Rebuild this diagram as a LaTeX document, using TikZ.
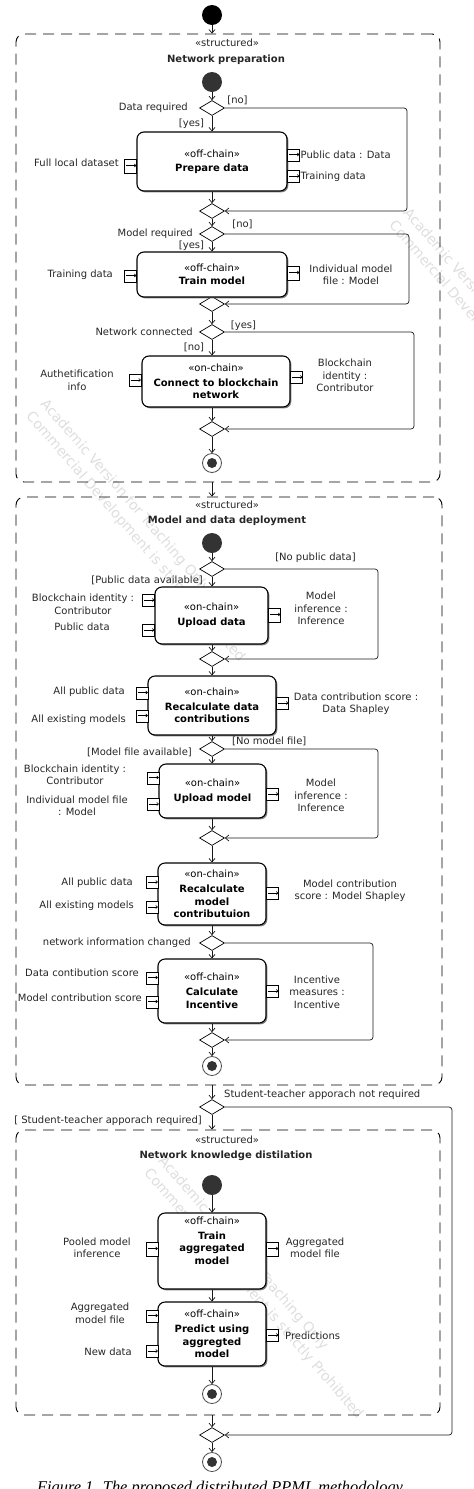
\documentclass[tikz,border=0pt]{standalone}
\usepackage{fontspec}
\setmainfont{DejaVu Sans}
\newfontfamily\captionfont{Liberation Serif}
\usetikzlibrary{shapes.geometric,arrows.meta,shadows,positioning}

\newcommand{\nsize}{\fontsize{10}{12.5}\selectfont}

\tikzset{
	flow/.style={draw=black!90, line width=0.7pt, -{Straight Barb[length=3.5pt,width=6pt]}},
	loopflow/.style={flow, rounded corners=3pt},
	activity/.style={draw, rectangle, rounded corners=7pt, line width=1.1pt, fill=white, align=center, inner sep=2pt,
		general shadow={fill=black!50, shadow xshift=1.4pt, shadow yshift=-1.4pt}},
	decision/.style={draw, diamond, minimum width=25pt, minimum height=15pt, inner sep=0pt, fill=white, line width=0.7pt},
	startnode/.style={circle, fill=black, minimum size=20pt, inner sep=0pt},
	endnode/.style={circle, draw=black!70, fill=white, line width=0.8pt, minimum size=19pt, inner sep=0pt,
		path picture={\fill[black!80] (path picture bounding box.center) circle (5pt);}},
	frame/.style={draw, dash pattern=on 11pt off 7pt, rounded corners=8pt, line width=0.9pt, inner sep=0pt},
	datapin/.style={draw, rectangle, minimum width=12pt, minimum height=12pt, inner sep=0pt, fill=white, line width=0.8pt,
		path picture={\draw[line width=0.6pt, -{Straight Barb[length=1.8pt,width=3pt]}]
			([xshift=1.5pt,yshift=0.5pt]path picture bounding box.west) -- ([yshift=0.5pt]path picture bounding box.east);}},
	lbl/.style={text=black!85, align=center, inner sep=0pt},
	watermark/.style={text=black!13, rotate=-49, align=left, inner sep=0pt, anchor=north west,
		font=\fontsize{14}{19}\selectfont}
}

\begin{document}
\begin{tikzpicture}[x=1pt, y=-1pt, every node/.append style={font=\nsize}]
	\useasboundingbox (0,0) rectangle (474,1489);

	% watermarks
	\node[watermark] (wmA) at (411,206) {Academic Version for Teaching Only\\Commercial Development is strictly Prohibited};
	\node[watermark] (wmB) at (48,397) {Academic Version for Teaching Only\\Commercial Development is strictly Prohibited};
	\node[watermark] (wmC) at (166,1154) {Academic Version for Teaching Only\\Commercial Development is strictly Prohibited};

	% structured frames
	\node[frame, minimum width=424pt, minimum height=448pt] (netprep) at (228,258) {};
	\node[frame, minimum width=426pt, minimum height=588pt] (deploy) at (229,791) {};
	\node[frame, minimum width=424pt, minimum height=285pt] (distil) at (228,1272.5) {};

	\node[lbl] (netprepster) at (227,43) {«structured»};
	\node[lbl] (netpreptitle) at (226,60) {\textbf{Network preparation}};
	\node[lbl] (deployster) at (227,505) {«structured»};
	\node[lbl] (deploytitle) at (227,521) {\textbf{Model and data deployment}};
	\node[lbl] (distilster) at (227,1140) {«structured»};
	\node[lbl] (distiltitle) at (226,1156) {\textbf{Network knowledge distilation}};

	% initial and final nodes
	\node[startnode] (start) at (212,15) {};
	\node[startnode, fill=black!80] (startA) at (212,82) {};
	\node[startnode, fill=black!80] (startB) at (212,543) {};
	\node[startnode, fill=black!80] (startC) at (212,1185) {};
	\node[endnode] (endA) at (212,463) {};
	\node[endnode] (endB) at (212,1066) {};
	\node[endnode] (endC) at (212,1394) {};
	\node[endnode] (endD) at (212,1462) {};

	% decisions and merges
	\node[decision] (dataq) at (212,108) {};
	\node[decision] (mergeA) at (212,211) {};
	\node[decision] (modelq) at (212,234) {};
	\node[decision] (mergeB) at (212,304) {};
	\node[decision] (netq) at (212,332) {};
	\node[decision] (mergeC) at (212,429) {};
	\node[decision] (pubq) at (212,569) {};
	\node[decision] (mergeD) at (212,659) {};
	\node[decision] (fileq) at (212,749) {};
	\node[decision] (mergeE) at (212,838) {};
	\node[decision] (infoq) at (212,943) {};
	\node[decision] (mergeF) at (212,1040) {};
	\node[decision] (teachq) at (212,1107) {};
	\node[decision] (mergeG) at (212,1435) {};

	% activities
	\node[activity, minimum width=150pt, minimum height=59pt] (prepdata) at (212,161.5) {«off-chain»\\[1pt]\textbf{Prepare data}};
	\node[activity, minimum width=150pt, minimum height=45pt] (trainmodel) at (212,274.5) {«off-chain»\\[1pt]\textbf{Train model}};
	\node[activity, minimum width=148pt, minimum height=51pt] (connect) at (216,381.5) {«on-chain»\\[2.5pt]\textbf{Connect to blockchain}\\\textbf{network}};
	\node[activity, minimum width=113pt, minimum height=57pt] (uploaddata) at (211.5,615.5) {«on-chain»\\[2.5pt]\textbf{Upload data}};
	\node[activity, minimum width=128pt, minimum height=59pt] (recalcdata) at (212,705.5) {«on-chain»\\[2.5pt]\textbf{Recalculate data}\\\textbf{contributions}};
	\node[activity, minimum width=107pt, minimum height=54pt] (uploadmodel) at (212.5,791) {«on-chain»\\[2.5pt]\textbf{Upload model}};
	\node[activity, minimum width=108pt, minimum height=62pt] (recalcmodel) at (212,894) {«on-chain»\\[2.5pt]\textbf{Recalculate}\\\textbf{model}\\\textbf{contributuion}};
	\node[activity, minimum width=108pt, minimum height=64pt] (incentive) at (212,991) {«off-chain»\\[2.5pt]\textbf{Calculate}\\\textbf{Incentive}};
	\node[activity, minimum width=108pt, minimum height=76pt] (trainagg) at (212,1251) {};
	\node[lbl, text=black, below=4pt of trainagg.north] (trainaggtxt) {«off-chain»\\[2.5pt]\textbf{Train}\\\textbf{aggregated}\\\textbf{model}};
	\node[activity, minimum width=108pt, minimum height=64pt] (predict) at (212,1334) {«off-chain»\\[2.5pt]\textbf{Predict using}\\\textbf{aggregted}\\\textbf{model}};

	% pins
	\node[datapin, minimum height=14pt] (prepin) at (130.5,166) {};
	\node[datapin] (prepoutA) at (293.5,155) {};
	\node[datapin] (prepoutB) at (293.5,176.5) {};
	\node[datapin] (trainin) at (130.5,276) {};
	\node[datapin, minimum height=14pt] (trainout) at (293.5,273) {};
	\node[datapin] (connin) at (135,380.5) {};
	\node[datapin] (connout) at (296.5,377.5) {};
	\node[datapin] (updinA) at (148.5,600.5) {};
	\node[datapin] (updinB) at (148.5,630.5) {};
	\node[datapin, minimum height=14pt] (updout) at (274.5,615) {};
	\node[datapin] (rcdinA) at (142,693) {};
	\node[datapin] (rcdinB) at (142,716) {};
	\node[datapin] (rcdout) at (282.5,703.5) {};
	\node[datapin] (upminA) at (153,778) {};
	\node[datapin] (upminB) at (153,804.5) {};
	\node[datapin] (upmout) at (272.5,794.5) {};
	\node[datapin] (rcminA) at (152,882.5) {};
	\node[datapin] (rcminB) at (152,907.5) {};
	\node[datapin] (rcmout) at (272.5,893.5) {};
	\node[datapin] (incinA) at (152,978) {};
	\node[datapin] (incinB) at (152,1002) {};
	\node[datapin] (incout) at (272.5,991.5) {};
	\node[datapin, minimum height=14pt] (tagin) at (152,1249) {};
	\node[datapin, minimum height=14pt] (tagout) at (272.5,1249) {};
	\node[datapin] (prdinA) at (152,1316) {};
	\node[datapin] (prdinB) at (152,1351.5) {};
	\node[datapin] (prdout) at (272.5,1335.5) {};

	% pin labels
	\node[lbl, anchor=east] (lprepin) at (119,163) {Full local dataset};
	\node[lbl, anchor=west] (lprepoutA) at (300.5,155) {Public data : Data};
	\node[lbl, anchor=west] (lprepoutB) at (300.5,177) {Training data};
	\node[lbl, anchor=east] (ltrainin) at (113,275) {Training data};
	\node[lbl] (ltrainout) at (351,275) {Individual model\\file : Model};
	\node[lbl] (lconnin) at (77,380.5) {Authetification\\info};
	\node[lbl] (lconnout) at (345,375.5) {Blockchain\\identity :\\Contributor};
	\node[lbl] (lupdinA) at (83,604.5) {Blockchain identity :\\Contributor};
	\node[lbl] (lupdinB) at (82,627) {Public data};
	\node[lbl] (lupdout) at (321,608.5) {Model\\inference :\\Inference};
	\node[lbl, anchor=east] (lrcdinA) at (125,692) {All public data};
	\node[lbl, anchor=east] (lrcdinB) at (126,720) {All existing models};
	\node[lbl] (lrcdout) at (356,703.5) {Data contribution score :\\Data Shapley};
	\node[lbl] (lupminA) at (75,775) {Blockchain identity :\\Contributor};
	\node[lbl] (lupminB) at (77,806) {Individual model file\\: Model};
	\node[lbl] (lupmout) at (321,795.5) {Model\\inference :\\Inference};
	\node[lbl, anchor=east] (lrcminA) at (133,883) {All public data};
	\node[lbl, anchor=east] (lrcminB) at (134,906) {All existing models};
	\node[lbl] (lrcmout) at (350,890.5) {Model contribution\\score : Model Shapley};
	\node[lbl, anchor=east] (lincinA) at (139,973) {Data contibution score};
	\node[lbl, anchor=east] (lincinB) at (142,998) {Model contribution score};
	\node[lbl] (lincout) at (317,992) {Incentive\\measures :\\Incentive};
	\node[lbl] (ltagin) at (97,1248) {Pooled model\\inference};
	\node[lbl] (ltagout) at (315,1248) {Aggregated\\model file};
	\node[lbl] (lprdinA) at (100,1313.5) {Aggregated\\model file};
	\node[lbl, anchor=east] (lprdinB) at (132,1352) {New data};
	\node[lbl, anchor=west] (lprdout) at (285,1336) {Predictions};

	% guards
	\node[lbl, anchor=east] (gdataq) at (188,108) {Data required};
	\node[lbl] (gdatano) at (237.5,100) {[no]};
	\node[lbl] (gdatayes) at (191.5,124) {[yes]};
	\node[lbl, anchor=east] (gmodelq) at (193,234) {Model required};
	\node[lbl] (gmodelno) at (242.5,224) {[no]};
	\node[lbl] (gmodelyes) at (191.5,246) {[yes]};
	\node[lbl, anchor=east] (gnetq) at (193,332) {Network connected};
	\node[lbl] (gnetyes) at (243.5,326) {[yes]};
	\node[lbl] (gnetno) at (194,347) {[no]};
	\node[lbl] (gpubno) at (315.5,558) {[No public data]};
	\node[lbl, anchor=east] (gpubyes) at (203,580) {[Public data available]};
	\node[lbl, anchor=west] (gfileno) at (232,741) {[No model file]};
	\node[lbl, anchor=east] (gfileyes) at (192,752) {[Model file available]};
	\node[lbl, anchor=east] (ginfoq) at (191,943) {network information changed};
	\node[lbl, anchor=west] (gteachno) at (224,1095) {Student-teacher apporach not required};
	\node[lbl, anchor=east] (gteachyes) at (202,1121) {[ Student-teacher apporach required]};

	% loop corners
	\coordinate (loopA) at (407,108);
	\coordinate (loopB) at (409,234);
	\coordinate (loopC) at (414,332);
	\coordinate (loopD) at (378,569);
	\coordinate (loopE) at (378,749);
	\coordinate (loopF) at (373,943);
	\coordinate (loopG) at (452,1107);

	% network preparation
	\draw[flow] (start) -- (start |- netprep.north);
	\draw[flow] (startA) -- (dataq);
	\draw[flow] (dataq.south) -- (dataq.south |- prepdata.north);
	\draw[loopflow] (dataq.east) -- (loopA) |- (mergeA.east);
	\draw[flow] (prepdata.south) -- (mergeA.north);
	\draw[flow] (mergeA) -- (modelq);
	\draw[flow] (modelq.south) -- (modelq.south |- trainmodel.north);
	\draw[loopflow] (modelq.east) -- (loopB) |- (mergeB.east);
	\draw[flow] (mergeB) -- (netq);
	\draw[flow] (netq.south) -- (netq.south |- connect.north);
	\draw[loopflow] (netq.east) -- (loopC) |- (mergeC.east);
	\draw[flow] (mergeC.north |- connect.south) -- (mergeC.north);
	\draw[flow] (mergeC) -- (endA);
	\draw[flow] (endA |- netprep.south) -- (endA |- deploy.north);

	% model and data deployment
	\draw[flow] (startB) -- (pubq);
	\draw[flow] (pubq.south) -- (pubq.south |- uploaddata.north);
	\draw[loopflow] (pubq.east) -- (loopD) |- (mergeD.east);
	\draw[flow] (pubq.south |- uploaddata.south) -- (mergeD.north);
	\draw[flow] (mergeD.south) -- (mergeD.south |- recalcdata.north);
	\draw[flow] (fileq.north |- recalcdata.south) -- (fileq.north);
	\draw[flow] (fileq.south) -- (fileq.south |- uploadmodel.north);
	\draw[loopflow] (fileq.east) -- (loopE) |- (mergeE.east);
	\draw[flow] (mergeE.north |- uploadmodel.south) -- (mergeE.north);
	\draw[flow] (mergeE.south) -- (mergeE.south |- recalcmodel.north);
	\draw[flow] (recalcmodel.south) -- (infoq.north);
	\draw[flow] (infoq.south) -- (infoq.south |- incentive.north);
	\draw[loopflow] (infoq.east) -- (loopF) |- (mergeF.east);
	\draw[flow] (incentive.south) -- (mergeF.north);
	\draw[flow] (mergeF) -- (endB);

	% knowledge distilation
	\draw[flow] (teachq.north |- deploy.south) -- (teachq.north);
	\draw[flow] (teachq.south) -- (teachq.south |- distil.north);
	\draw[loopflow] (teachq.east) -- (loopG) |- (mergeG.east);
	\draw[flow] (startC) -- (trainagg.north);
	\draw[flow] (trainagg.south) -- (predict.north);
	\draw[flow] (predict.south) -- (endC);
	\draw[flow] (mergeG.north |- distil.south) -- (mergeG.north);
	\draw[flow] (mergeG) -- (endD);

	\node[anchor=base, font=\captionfont\fontsize{16.4}{18}\selectfont\itshape] (caption) at (220,1492.5) {Figure 1. The proposed distributed PPML methodology};
\end{tikzpicture}
\end{document}
